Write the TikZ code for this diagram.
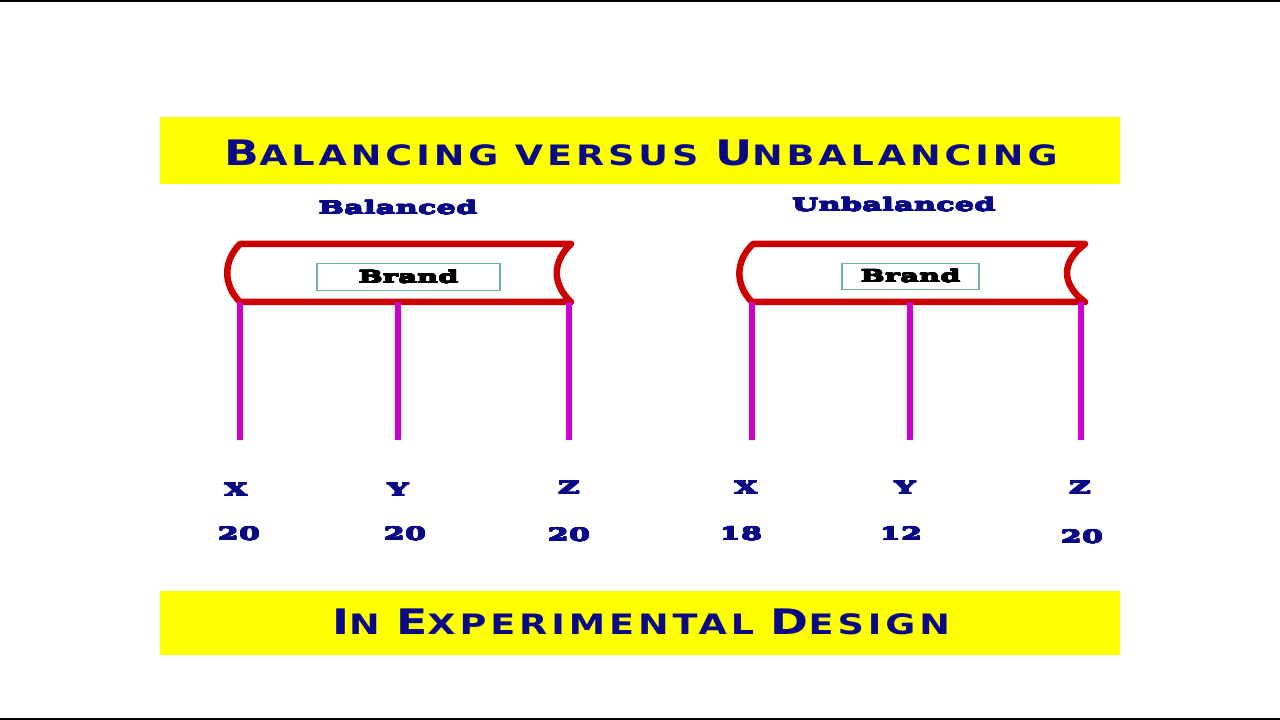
\documentclass[tikz,border=0pt]{standalone}
\usepackage{fontspec}
\usepackage[copies]{contour}
\usepackage{tikz}

\newfontfamily\headfont[FakeStretch=1.3,LetterSpace=14]{DejaVu Sans}
\newfontfamily\widefont[FakeStretch=1.7,LetterSpace=3]{DejaVu Serif}
\newcommand{\headbig}{\fontsize{20}{24}\selectfont}
\newcommand{\headsmall}{\fontsize{16}{19}\selectfont}
\contourlength{0.3pt}
\contournumber{16}

\definecolor{navyblue}{RGB}{10,10,135}
\definecolor{bannerYellow}{RGB}{255,255,0}
\definecolor{scrollred}{RGB}{204,0,0}
\definecolor{stemmagenta}{RGB}{204,0,204}
\definecolor{boxteal}{RGB}{110,180,160}

\newcommand{\heavytext}[1]{\contour{navyblue}{#1}}
\newcommand{\heavyblack}[1]{\contour{black}{#1}}

\begin{document}
\begin{tikzpicture}[x=0.2mm,y=-0.2mm,
    banner/.style={fill=bannerYellow},
    scroll/.style={draw=scrollred,line width=1.3mm,line join=round,line cap=round},
    stem/.style={draw=stemmagenta,line width=1.1mm},
    heading/.style={text=navyblue,inner sep=0pt,font=\headfont\bfseries},
    wlabel/.style={text=navyblue,inner sep=0pt,font=\widefont\bfseries\fontsize{10}{12}\selectfont},
    brandbox/.style={draw=boxteal,line width=0.25mm,inner sep=0pt,minimum height=5.3mm,
        font=\widefont\bfseries\fontsize{9.5}{11}\selectfont}]
    \useasboundingbox (0,0) rectangle (1280,720);
    % frame lines and banners
    \fill (0,0) rectangle (1280,2);
    \fill (0,717.5) rectangle (1280,720);
    \fill[banner] (160,117) rectangle (1120,184);
    \fill[banner] (160,591) rectangle (1120,655);
    \node[heading] (title) at (641,153) {\headbig B\headsmall ALANCING VERSUS \headbig U\headsmall NBALANCING};
    \node[heading] (subtitle) at (641,622) {\headbig I\headsmall N \headbig E\headsmall XPERIMENTAL \headbig D\headsmall ESIGN};
    % balanced side
    \node[wlabel] (baltitle) at (398,208) {\heavytext{Balanced}};
    \draw[scroll] (240,244) -- (571,244) .. controls (552,262) and (552,284) .. (571,302)
        -- (240,302) .. controls (223,285) and (223,261) .. cycle;
    \node[brandbox,minimum width=36.6mm] (balbrand) at (408.5,277) {\heavyblack{Brand}};
    \coordinate (balx) at (240,302);
    \coordinate (baly) at (398,302);
    \coordinate (balz) at (569,302);
    \coordinate (balxend) at (240,440);
    \coordinate (balyend) at (398,440);
    \coordinate (balzend) at (569,440);
    \draw[stem] (balx) -- (balxend);
    \draw[stem] (baly) -- (balyend);
    \draw[stem] (balz) -- (balzend);
    \node[wlabel] (balxlab) at (236,490) {\heavytext{X}};
    \node[wlabel] (balylab) at (398,490) {\heavytext{Y}};
    \node[wlabel] (balzlab) at (569,488) {\heavytext{Z}};
    \node[wlabel] (balxnum) at (239,534) {\heavytext{20}};
    \node[wlabel] (balynum) at (405,534) {\heavytext{20}};
    \node[wlabel] (balznum) at (569,535) {\heavytext{20}};
    % unbalanced side
    \node[wlabel] (unbtitle) at (894,205) {\heavytext{Unbalanced}};
    \draw[scroll] (753,244) -- (1085,244) .. controls (1061,262) and (1061,284) .. (1085,302)
        -- (752,302) .. controls (735,285) and (735,261) .. cycle;
    \node[brandbox,minimum width=27.4mm] (unbbrand) at (910.5,276.5) {\heavyblack{Brand}};
    \coordinate (unbx) at (752,302);
    \coordinate (unby) at (910,302);
    \coordinate (unbz) at (1081,302);
    \coordinate (unbxend) at (752,440);
    \coordinate (unbyend) at (910,440);
    \coordinate (unbzend) at (1081,440);
    \draw[stem] (unbx) -- (unbxend);
    \draw[stem] (unby) -- (unbyend);
    \draw[stem] (unbz) -- (unbzend);
    \node[wlabel] (unbxlab) at (746,488) {\heavytext{X}};
    \node[wlabel] (unbylab) at (905,488) {\heavytext{Y}};
    \node[wlabel] (unbzlab) at (1080,488) {\heavytext{Z}};
    \node[wlabel] (unbxnum) at (741,534) {\heavytext{18}};
    \node[wlabel] (unbynum) at (901,534) {\heavytext{12}};
    \node[wlabel] (unbznum) at (1082,537) {\heavytext{20}};
\end{tikzpicture}
\end{document}
